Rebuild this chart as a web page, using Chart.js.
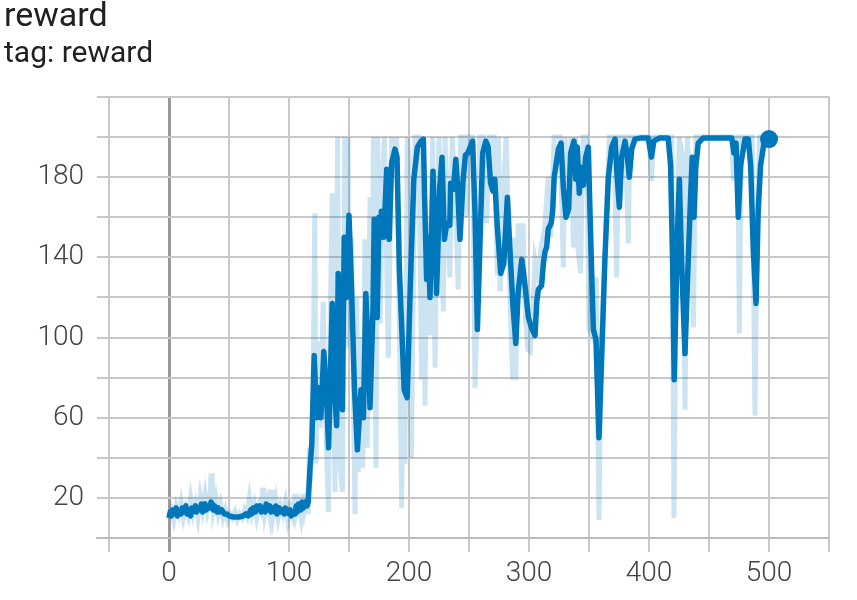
<!DOCTYPE html>
<html>
<head>
<meta charset="utf-8">
<script src="https://cdn.jsdelivr.net/npm/chart.js@4"></script>
<style>
  html, body { margin: 0; padding: 0; background: #fff; }
  #wrap { position: relative; width: 857px; height: 600px; }
  canvas { position: absolute; left: 0; top: 0; }
  .title { position: absolute; left: 4px; top: -6px; font: 400 34px Roboto, sans-serif; color: #212121; }
  .sub { position: absolute; left: 4px; top: 34px; font: 400 30px Roboto, sans-serif; color: #212121; }
</style>
</head>
<body>
<div id="wrap">
  <canvas id="c" width="857" height="600"></canvas>
  <div class="title">reward</div>
  <div class="sub">tag: reward</div>
</div>
<script>
// raw episode rewards (light trace)
const rawEpisodes = [0,2,4,6,8,10,12,14,16,18,20,22,24,26,28,30,32,34,35,36,37,39,41,43,45,47,49,51,53,55,57,59,61,63,65,67,69,71,73,75,77,78,79,80,82,84,85,86,87,89,91,93,95,97,99,101,103,105,106,108,110,112,113,115,116,117,118,
  120,121.5,122.5,124,126,128.5,130,132.8,134,136,138.3,140.5,142,144.5,146.5,148,149.2,150,152,155,156.5,157.7,159,161.4,163.3,165.2,167.5,169,170.3,172.5,173.9,176,177.5,179.4,181,182.8,185.5,187,189.7,191,193.9,195,196.6,198.6,200,202,
  205,208,210.5,212,213.3,215,217.8,219.5,221.7,223.5,225,228.6,230,232,234,236,238,241,243,246,248,250,253,255,257,259,262,264.7,267,271,273.6,274.5,276,278,281,284,286.4,287.5,289,291,293,295,297,299,301,303,305,308,310,313,316,318,321,326,328.6,330,333,335,337,339,341,343,345,348,350,354,356,358.3,360,363.3,367,371,373,375,380,382.8,384,400,402,404,419,420.8,423,425.3,428,430,432,435,437,439,469,470.3,472,474,475.3,477,486,488.3,490,492,500];
const rawReward = [10,14,9,16,12,18,10,15,11,20,12,17,10,21,14,22,13,18,31,31,14,20,12,17,10,14,9,12,10,13,9,12,10,14,11,20,12,17,10,16,13,24,24,12,18,11,23,23,12,19,10,16,12,18,9,15,11,22,12,17,10,22,14,20,12,45,28,
  75,162,37,98,55,118,70,13,95,172,23,200,40,23,200,95,200,104,150,12,120,33,100,35,149,45,170,70,200,35,200,107,170,200,150,90,200,180,200,150,15,100,37,200,190,40,
  200,200,79,200,66,160,101,200,85,170,200,113,200,170,130,200,180,124,200,200,160,200,200,75,120,200,200,157,200,200,131,200,123,170,200,124,79,150,79,157,120,157,110,94,93,110,139,130,145,154,180,150,200,200,135,200,170,200,145,200,143,132,200,200,104,99,130,9,90,140,200,200,130,200,200,147,200,200,178,200,200,10,150,200,190,64,200,170,105,200,200,178,200,200,102,200,200,61,150,200,200];

// smoothed rewards (dark trace)
const smoothEpisodes = [0,1,2,3,4,6,7,8,10,11,12,14,15,16,18,19,20,22,23,24,26,27,28,30,31,32,34,35,36,37,38,40,41,42,44,46,48,50,54,58,62,64,66,68,69,70,72,73,74,76,77,78,80,81,82,84,85,86,88,89,90,92,93,94,96,97,98,100,101,102,104,105,106,107,108,110,111,112,114,115,116,
  117.5,119,121,123,125,126.5,129,131,133,136,138,139.7,141,142.5,144.5,146,148,150,152,154.5,157,160,162,164,165.5,167.5,170,171,172.5,173.5,175,176.5,177,179,181.4,183.5,185.5,188.3,190,192,194,196,198.5,201,204,207,210,212,
  213,214.7,216,217.5,220,223,225.5,227.5,229.5,231.5,234,234.7,237,239,240.5,242.5,245,247,249,253,255,257,259.5,261.4,264,266,268,270,271.5,273.5,276.4,279,282,284,286.5,289,291,294,296.5,299.5,302,305,306.5,307.8,310.5,312,313.4,314.7,316,318.5,319.7,321,324.5,326.7,328.6,330.8,333,334.7,337.5,339,340.2,341.9,343.3,345.3,347.2,349.4,351.4,353.6,355.8,358.3,360.6,363.3,366.1,368.9,371.7,373.6,375.3,377.2,380,382,383.6,385.6,388.3,392.5,399.4,402,404,408.5,416,418,419.7,421,423.6,425.3,427.2,430,432,434,436,437.5,439,441,445,469,470.8,472.5,474.4,476.4,480,482.8,484.7,486.9,489.2,491,493,495.8,499.4,500];
const smoothReward = [10,13,11,14,12,15,11,13,12,15,13,16,12,14,11,15,13,16,13,15,14,17,13,17,14,16,15,18,17,14,16,13,15,13,14,12,12,11,10.5,10.5,11,12,11,14,12,15,13,16,14,16,13,15,13,17,14,16,13,15,13,16,12,15,13,14,12,15,13,12,14,11,13,12,16,13,17,14,18,15,18,16,18,
  35,47,91,60,75,60,93,75,45,117,73,56,132,89,64,150,120,161,127,75,44,74,60,122,103,65,114,159,154,110,160,150,163,150,184,149,187,194,190,134,104,74,70,124,179,195,198,199,
  170,129,150,120,183,122,174,190,149,157,156,177,174,189,175,149,178,191,192,198,162,104,154,192,198,195,177,173,179,156,132,137,170,145,117,97,123,139,127,110,105,101,118,124,126,137,143,145,154,157,163,180,194,197,175,160,164,192,198,179,195,172,185,176,190,195,150,104,99,50,91,140,180,195,199,179,165,190,198,190,180,194,199,199.5,199.5,190,198,199.5,199.5,186,137,79,150,179,137,92,127,160,190,160,185,197,199.5,199.5,192,197,160,186,199,199,186,144,117,163,186,197,199.5,199];

const xTicks = [-50,0,50,100,150,200,250,300,350,400,450,500,550];
const yTicks = [0,20,40,60,80,100,120,140,160,180,200,220];

const blue = "#0077bb";
const blueLight = "rgba(0, 119, 187, 0.2)";
const grid = "#c8c8c8";
const labelColor = "#444444";

const smoothData = smoothEpisodes.map((x, i) => ({ x: x, y: smoothReward[i] }));
const rawData = rawEpisodes.map((x, i) => ({ x: x, y: rawReward[i] }));

new Chart(document.getElementById("c"), {
  type: "line",
  data: {
    datasets: [
      {
        label: "smoothed",
        data: smoothData,
        borderColor: blue,
        backgroundColor: blue,
        borderWidth: 5.5,
        borderJoinStyle: "round",
        tension: 0,
        pointRadius: (ctx) => (ctx.dataIndex === smoothData.length - 1 ? 9 : 0),
        pointBorderWidth: 0,
        order: 0,
      },
      {
        label: "raw",
        data: rawData,
        borderColor: blueLight,
        borderWidth: 5,
        tension: 0,
        pointRadius: 0,
        order: 1,
      },
    ],
  },
  options: {
    responsive: false,
    animation: false,
    layout: { padding: { top: 97, right: 28, left: 0, bottom: 0 } },
    plugins: { legend: { display: false }, tooltip: { enabled: false } },
    scales: {
      x: {
        type: "linear",
        min: -60,
        max: 550,
        afterBuildTicks: (scale) => {
          scale.ticks = xTicks.map((v) => ({ value: v }));
        },
        afterFit: (scale) => {
          scale.height = 62;
        },
        grid: {
          color: (ctx) => (ctx.tick && ctx.tick.value === 0 ? "#999999" : grid),
          lineWidth: (ctx) => (ctx.tick && ctx.tick.value === 0 ? 3 : 2),
          tickLength: 14,
        },
        border: { display: true, color: "#bbbbbb", width: 2 },
        ticks: {
          padding: 5,
          maxRotation: 0,
          autoSkip: false,
          color: labelColor,
          font: { family: "Roboto", weight: "300", size: 28 },
          callback: (v) => (v % 100 === 0 && v >= 0 && v <= 500 ? String(v) : ""),
        },
      },
      y: {
        type: "linear",
        min: 0,
        max: 220,
        afterBuildTicks: (scale) => {
          scale.ticks = yTicks.map((v) => ({ value: v }));
        },
        afterFit: (scale) => {
          scale.width = 97;
        },
        grid: { color: grid, lineWidth: 2, drawTicks: false },
        border: { display: false },
        ticks: {
          padding: 13,
          autoSkip: false,
          color: labelColor,
          font: { family: "Roboto", weight: "300", size: 28 },
          callback: (v) => ((v - 20) % 40 === 0 && v > 0 && v < 200 ? String(v) : ""),
        },
      },
    },
  },
});
</script>
</body>
</html>
